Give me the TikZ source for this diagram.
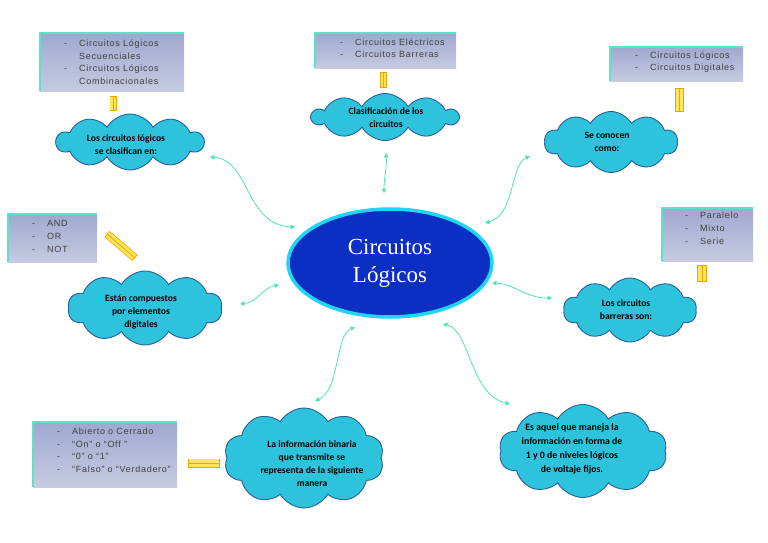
\documentclass[tikz,border=0pt]{standalone}
\usepackage{fontspec}
\setmainfont{Liberation Serif}
\newfontfamily\boxfont{Liberation Sans}[LetterSpace=8]
\newfontfamily\cloudfont{Carlito}
\usetikzlibrary{shapes.geometric,shapes.symbols,arrows.meta}
\definecolor{cloudfill}{HTML}{2EC3DD}
\definecolor{clouddraw}{HTML}{2A5F93}
\definecolor{ellfill}{HTML}{0B2FC2}
\definecolor{ellbord}{HTML}{1FD5F5}
\definecolor{arrowc}{HTML}{4FE3B5}
\definecolor{boxtop}{HTML}{A0A8CE}
\definecolor{boxbot}{HTML}{C6CBE2}
\definecolor{boxline}{HTML}{5CE2C6}
\definecolor{boxtext}{HTML}{404040}
\definecolor{barout}{HTML}{F2A300}
\definecolor{barin}{HTML}{FFE55A}
\newcommand\ybar[3]{%
  \draw[barout, line width=#3pt] (#1) -- (#2);
  \draw[barin, line width=#3pt-1.6pt, shorten <=0.8pt, shorten >=0.8pt] (#1) -- (#2);
  \draw[barout, line width=0.8pt] (#1) -- (#2);}
\tikzset{
  cloudnode/.style={cloud, cloud puffs=10, cloud puff arc=120, cloud ignores aspect,
    fill=cloudfill, draw=clouddraw, line width=0.9pt, inner sep=0pt},
  cloudtext/.style={font=\cloudfont\bfseries\fontsize{9.6}{13}\selectfont, align=center, inner sep=0pt},
  boxnode/.style={rectangle, top color=boxtop, bottom color=boxbot, inner sep=0pt, anchor=north west},
  boxtext/.style={font=\boxfont\fontsize{9}{12.6}\selectfont, text=boxtext, anchor=west, inner sep=0pt},
  boxedge/.style={boxline, line width=1.4pt},
  conn/.style={arrowc, line width=0.8pt, {Triangle[width=4.5pt,length=4.5pt]}-{Triangle[width=4.5pt,length=4.5pt]}}
}
\newcommand\dashlist[1]{\begin{tabular}{@{}l@{\hspace{12pt}}l@{}}#1\end{tabular}}
\begin{document}
\begin{tikzpicture}[x=1pt,y=-1pt]
\useasboundingbox (0,0) rectangle (768,543);
\fill[white] (0,0) rectangle (768,543);

% central ellipse
\node[ellipse, minimum width=204pt, minimum height=108pt, inner sep=0pt, fill=ellfill, draw=ellbord, line width=3.5pt,
  font=\fontsize{23}{28}\selectfont, text=white, align=center] (main) at (390,263) {Circuitos\\Lógicos};

% clouds
\node[cloudnode, minimum width=147pt, minimum height=56pt] (c1) at (130,142) {};
\node[cloudtext] (t1) at (126,145) {Los circuitos lógicos\\se clasifican en:};
\node[cloudnode, minimum width=146pt, minimum height=47pt] (c2) at (385,117) {};
\node[cloudtext] (t2) at (386,118) {Clasificación de los\\circuitos};
\node[cloudnode, minimum width=133pt, minimum height=61pt] (c3) at (611,142) {};
\node[cloudtext] (t3) at (607,142) {Se conocen\\como:};
\node[cloudnode, minimum width=154pt, minimum height=74pt] (c4) at (145,308) {};
\node[cloudtext] (t4) at (141,312) {Están compuestos\\por elementos\\digitales};
\node[cloudnode, minimum width=133pt, minimum height=64pt] (c5) at (630,310) {};
\node[cloudtext] (t5) at (626,310) {Los circuitos\\barreras son:};
\node[cloudnode, minimum width=160pt, minimum height=100pt] (c6) at (304,458) {};
\node[cloudtext] (t6) at (312,464) {La información binaria\\que transmite se\\representa de la siguiente\\manera};
\node[cloudnode, minimum width=168pt, minimum height=93pt] (c7) at (583,451) {};
\node[cloudtext, font=\cloudfont\bfseries\fontsize{9.8}{14}\selectfont] (t7) at (572,449) {Es aquel que maneja la\\información en forma de\\1 y 0 de niveles lógicos\\de voltaje fijos.};

% boxes
\node[boxnode, minimum width=144pt, minimum height=58pt] (r1) at (40,33) {};
\draw[boxedge] (r1.south west) -- (r1.north west) -- (r1.north east);
\node[boxtext] (r1t) at (64,63) {\dashlist{-&Circuitos Lógicos\\&Secuenciales\\-&Circuitos Lógicos\\&Combinacionales}};

\node[boxnode, minimum width=141pt, minimum height=35pt] (r2) at (315,33) {};
\draw[boxedge] (r2.south west) -- (r2.north west) -- (r2.north east);
\node[boxtext] (r2t) at (340,49) {\dashlist{-&Circuitos Eléctricos\\-&Circuitos Barreras}};

\node[boxnode, minimum width=133pt, minimum height=34pt] (r3) at (610,47) {};
\draw[boxedge] (r3.south west) -- (r3.north west) -- (r3.north east);
\node[boxtext] (r3t) at (635,62) {\dashlist{-&Circuitos Lógicos\\-&Circuitos Digitales}};

\node[boxnode, minimum width=89pt, minimum height=48pt] (r4) at (8,214) {};
\draw[boxedge] (r4.south west) -- (r4.north west) -- (r4.north east);
\node[boxtext] (r4t) at (32,237) {\dashlist{-&AND\\-&OR\\-&NOT}};

\node[boxnode, minimum width=91pt, minimum height=53pt] (r5) at (662,208) {};
\draw[boxedge] (r5.south west) -- (r5.north west) -- (r5.north east);
\node[boxtext] (r5t) at (685,229) {\dashlist{-&Paralelo\\-&Mixto\\-&Serie}};

\node[boxnode, minimum width=144pt, minimum height=65pt] (r6) at (33,422) {};
\draw[boxedge] (r6.south west) -- (r6.north west) -- (r6.north east);
\node[boxtext] (r6t) at (57,451) {\dashlist{-&Abierto o Cerrado\\-&“On” o “Off ”\\-&“0” o “1”\\-&“Falso” o “Verdadero”}};

% yellow double bars
\coordinate (b1s) at (113,96);  \coordinate (b1e) at (113,111);
\coordinate (b2s) at (383.5,72); \coordinate (b2e) at (383.5,88);
\coordinate (b3s) at (679.5,88); \coordinate (b3e) at (679.5,112);
\coordinate (b4s) at (107,234); \coordinate (b4e) at (135,258);
\coordinate (b5s) at (702,265); \coordinate (b5e) at (702,282);
\coordinate (b6s) at (188,463); \coordinate (b6e) at (220,463);
\ybar{b1s}{b1e}{7}
\ybar{b2s}{b2e}{7}
\ybar{b3s}{b3e}{8.5}
\ybar{b4s}{b4e}{8}
\ybar{b5s}{b5e}{9.5}
\ybar{b6s}{b6e}{9}

% curved double arrows
\coordinate (a1s) at (210,157); \coordinate (a1e) at (295,227);
\coordinate (a2s) at (386,153); \coordinate (a2e) at (384,193);
\coordinate (a3s) at (530,156); \coordinate (a3e) at (485,223);
\coordinate (a4s) at (240,304); \coordinate (a4e) at (279,285);
\coordinate (a5s) at (492,283); \coordinate (a5e) at (552,298);
\coordinate (a6s) at (355,327); \coordinate (a6e) at (315,401);
\coordinate (a7s) at (443,324); \coordinate (a7e) at (510,404);
\draw[conn] (a1s) .. controls (250,160) and (245,225) .. (a1e);
\draw[conn] (a2s) .. controls (387,168) and (384,178) .. (a2e);
\draw[conn] (a3s) .. controls (510,165) and (515,215) .. (a3e);
\draw[conn] (a4s) .. controls (258,302) and (262,288) .. (a4e);
\draw[conn] (a5s) .. controls (515,284) and (525,298) .. (a5e);
\draw[conn] (a6s) .. controls (335,335) and (340,390) .. (a6e);
\draw[conn] (a7s) .. controls (470,330) and (470,395) .. (a7e);
\end{tikzpicture}
\end{document}
